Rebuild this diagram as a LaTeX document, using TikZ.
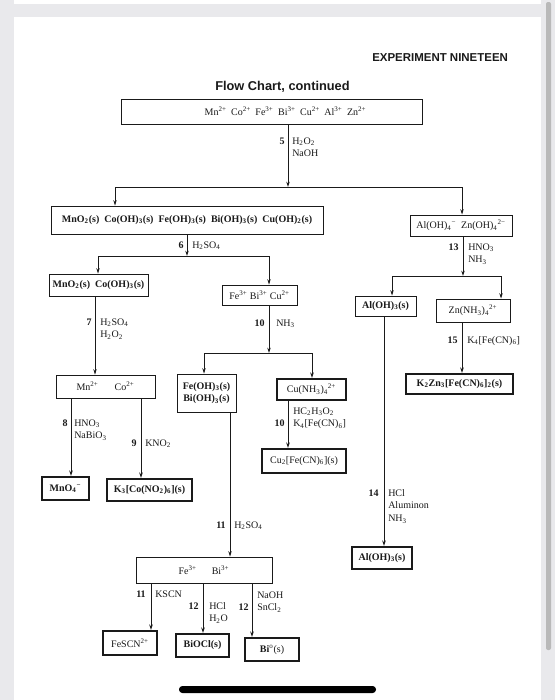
\documentclass[tikz,border=0pt]{standalone}
\usepackage{fontspec}
\setmainfont{Liberation Serif}
\newfontfamily\hsans{Liberation Sans}
\usetikzlibrary{arrows.meta}
\newcommand{\sbs}[1]{\textsubscript{#1}}
\newcommand{\sps}[1]{\textsuperscript{#1}}
\newcommand{\ml}[1]{\begin{tabular}[t]{@{}l@{}}#1\end{tabular}}
\definecolor{pagegray}{HTML}{E9E9EC}
\definecolor{ink}{HTML}{1A1A1A}
\begin{document}
\begin{tikzpicture}[x=0.75pt,y=-0.75pt,
  box/.style={draw=ink, text=ink, line width=0.7pt, inner sep=0pt, font=\fontsize{7.5}{9}\selectfont},
  tbox/.style={box, line width=1.7pt},
  wh/.style 2 args={minimum width=#1*0.75pt, minimum height=#2*0.75pt},
  arr/.style={draw=ink, line width=0.7pt, -{Stealth[length=4pt,width=2.6pt]}},
  ln/.style={draw=ink, line width=0.7pt},
  num/.style={anchor=base east, text=ink, inner sep=0pt, font=\fontsize{7.5}{9}\selectfont\bfseries},
  lab/.style={anchor=base west, text=ink, inner sep=0pt, font=\fontsize{7.5}{9.6}\selectfont},
]
\useasboundingbox (0,0) rectangle (555,700);
% screenshot page
\fill[pagegray] (0,0) rectangle (555,700);
\fill[white] (14,0) rectangle (541,4);
\fill[white] (14,17) rectangle (541,700);
\fill[gray!55, rounded corners=1.5pt] (546,2) rectangle (551,650);
\fill[black, rounded corners=2.5pt] (179,686) rectangle (376,693);

% headings
\node[anchor=base west, inner sep=0pt, text=ink, font=\hsans\bfseries\fontsize{8.6}{10}\selectfont] (hdr) at (372,61) {EXPERIMENT NINETEEN};
\node[anchor=base west, inner sep=0pt, text=ink, font=\hsans\bfseries\fontsize{9.6}{11}\selectfont] (ttl) at (215,90) {Flow Chart, continued};

% boxes
\node[box, wh={301}{25}] (top) at (271.5,111.5) {\hspace{21pt}Mn\sps{2+}\hspace{0.45em}Co\sps{2+}\hspace{0.45em}Fe\sps{3+}\hspace{0.45em}Bi\sps{3+}\hspace{0.45em}Cu\sps{2+}\hspace{0.45em}Al\sps{3+}\hspace{0.45em}Zn\sps{2+}};
\node[box, wh={272}{28}, font=\fontsize{7.5}{9}\selectfont\bfseries] (hyd) at (187,220) {MnO\sbs{2}(s)\ \ Co(OH)\sbs{3}(s)\ \ Fe(OH)\sbs{3}(s)\ \ Bi(OH)\sbs{3}(s)\ \ Cu(OH)\sbs{2}(s)};
\node[box, wh={102}{21}] (alzn) at (461,225.5) {Al(OH)\sbs{4}\sps{−}\ \ Zn(OH)\sbs{4}\sps{2−}};
\node[box, wh={99}{22}, font=\fontsize{7.5}{9}\selectfont\bfseries] (mncos) at (98.5,285) {MnO\sbs{2}(s)\ \ Co(OH)\sbs{3}(s)};
\node[box, wh={75}{20}] (febicu) at (259.5,295) {Fe\sps{3+} Bi\sps{3+} Cu\sps{2+}};
\node[box, wh={61}{20}, font=\fontsize{7.5}{9}\selectfont\bfseries] (aloh) at (385.5,306) {Al(OH)\sbs{3}(s)};
\node[box, wh={74}{23}] (znnh) at (473,310.5) {Zn(NH\sbs{3})\sbs{4}\sps{2+}};
\node[tbox, wh={107}{20}, font=\fontsize{7.5}{9}\selectfont\bfseries] (k2zn) at (459.5,384) {K\sbs{2}Zn\sbs{3}[Fe(CN)\sbs{6}]\sbs{2}(s)};
\node[box, wh={99}{23}] (mncoi) at (105.5,386.5) {Mn\sps{2+}\hspace{1.6em}Co\sps{2+}};
\node[box, wh={59}{38}, align=center, font=\fontsize{7.5}{9.5}\selectfont\bfseries] (feohs) at (206.5,393) {Fe(OH)\sbs{3}(s)\\Bi(OH)\sbs{3}(s)};
\node[tbox, wh={69}{21}] (cunh) at (311.5,389.5) {Cu(NH\sbs{3})\sbs{4}\sps{2+}};
\node[tbox, wh={47}{23}, font=\fontsize{7.5}{9}\selectfont\bfseries] (mno4) at (65.5,488.5) {MnO\sbs{4}\sps{−}};
\node[tbox, wh={85}{22}, font=\fontsize{7.5}{9}\selectfont\bfseries] (k3co) at (149.5,490) {K\sbs{3}[Co(NO\sbs{2})\sbs{6}](s)};
\node[tbox, wh={84}{24}] (cufe) at (304,461) {Cu\sbs{2}[Fe(CN)\sbs{6}](s)};
\node[tbox, wh={60}{22}, font=\fontsize{7.5}{9}\selectfont\bfseries] (aloht) at (382,558) {Al(OH)\sbs{3}(s)};
\node[box, wh={136}{26}] (febi) at (204,570) {Fe\sps{3+}\hspace{1.5em}Bi\sps{3+}};
\node[tbox, wh={54}{24}] (fescn) at (130,643) {FeSCN\sps{2+}};
\node[tbox, wh={53}{23}, font=\fontsize{7.5}{9}\selectfont\bfseries] (biocl) at (202.5,645.5) {BiOCl(s)};
\node[tbox, wh={54}{23}] (bizero) at (272,649.5) {\textbf{Bi}\sps{o}(s)};

% step 5
\coordinate (j5) at (288,187);
\coordinate (j5l) at (115,187);
\coordinate (j5r) at (462,187);
\draw[arr] (top.south -| j5) -- (j5);
\draw[arr] (j5) -| (j5l |- hyd.north);
\draw[arr] (j5) -| (j5r |- alzn.north);
\node[num] (n5) at (285,144) {5};
\node[lab] (t5) at (292,144) {\ml{H\sbs{2}O\sbs{2}\\NaOH}};

% step 6
\coordinate (j6) at (187,256);
\coordinate (j6l) at (98,256);
\coordinate (j6r) at (269,256);
\draw[arr] (hyd.south -| j6) -- (j6);
\draw[arr] (j6) -| (j6l |- mncos.north);
\draw[arr] (j6) -| (j6r |- febicu.north);
\node[num] (n6) at (184,248) {6};
\node[lab] (t6) at (192,248) {H\sbs{2}SO\sbs{4}};

% step 13
\coordinate (j13) at (463,276);
\coordinate (j13l) at (392,276);
\coordinate (j13r) at (501,276);
\draw[arr] (alzn.south -| j13) -- (j13);
\draw[arr] (j13) -| (j13l |- aloh.north);
\draw[arr] (j13) -| (j13r |- znnh.north);
\node[num] (n13) at (459,250) {13};
\node[lab] (t13) at (468,250) {\ml{HNO\sbs{3}\\NH\sbs{3}}};

% step 15
\coordinate (x15) at (462,0);
\draw[arr] (znnh.south -| x15) -- (k2zn.north -| x15);
\node[num] (n15) at (458,343) {15};
\node[lab] (t15) at (467,343) {K\sbs{4}[Fe(CN)\sbs{6}]};

% step 7
\coordinate (x7) at (95,0);
\draw[arr] (mncos.south -| x7) -- (mncoi.north -| x7);
\node[num] (n7) at (92,325) {7};
\node[lab] (t7) at (100,325) {\ml{H\sbs{2}SO\sbs{4}\\H\sbs{2}O\sbs{2}}};

% step 10 (NH3)
\coordinate (j10) at (269,353);
\coordinate (j10l) at (204,353);
\coordinate (j10r) at (312,353);
\draw[arr] (febicu.south -| j10) -- (j10);
\draw[arr] (j10) -| (j10l |- feohs.north);
\draw[arr] (j10) -| (j10r |- cunh.north);
\node[num] (n10) at (265,326) {10};
\node[lab] (t10) at (276,326) {NH\sbs{3}};

% step 8 and 9
\coordinate (x8) at (71,0);
\coordinate (x9) at (141,0);
\draw[arr] (mncoi.south -| x8) -- (mno4.north -| x8);
\draw[arr] (mncoi.south -| x9) -- (k3co.north -| x9);
\node[num] (n8) at (68,426) {8};
\node[lab] (t8) at (74,426) {\ml{HNO\sbs{3}\\NaBiO\sbs{3}}};
\node[num] (n9) at (137,446) {9};
\node[lab] (t9) at (145,446) {KNO\sbs{2}};

% step 10 (Cu)
\coordinate (x10b) at (288,0);
\draw[arr] (cunh.south -| x10b) -- (cufe.north -| x10b);
\node[lab] (t10b) at (293,414) {\ml{HC\sbs{2}H\sbs{3}O\sbs{2}\\K\sbs{4}[Fe(CN)\sbs{6}]}};
\node[num] (n10b) at (285,426) {10};

% step 14
\coordinate (x14) at (384,0);
\draw[arr] (aloh.south -| x14) -- (aloht.north -| x14);
\node[num] (n14) at (379,496) {14};
\node[lab] (t14) at (388,496) {\ml{HCl\\Aluminon\\NH\sbs{3}}};

% step 11 (H2SO4)
\coordinate (x11) at (230,0);
\draw[arr] (feohs.south -| x11) -- (febi.north -| x11);
\node[num] (n11) at (226,528) {11};
\node[lab] (t11) at (234,528) {H\sbs{2}SO\sbs{4}};

% steps 11, 12, 12
\coordinate (x11b) at (151,0);
\coordinate (x12a) at (203,0);
\coordinate (x12b) at (252,0);
\draw[arr] (febi.south -| x11b) -- (fescn.north -| x11b);
\draw[arr] (febi.south -| x12a) -- (biocl.north -| x12a);
\draw[arr] (febi.south -| x12b) -- (bizero.north -| x12b);
\node[num] (n11b) at (146,597) {11};
\node[lab] (t11b) at (155,597) {KSCN};
\node[num] (n12a) at (199,609) {12};
\node[lab] (t12a) at (209,609) {\ml{HCl\\H\sbs{2}O}};
\node[lab] (t12b) at (257,598) {\ml{NaOH\\SnCl\sbs{2}}};
\node[num] (n12b) at (249,610) {12};
\end{tikzpicture}
\end{document}
